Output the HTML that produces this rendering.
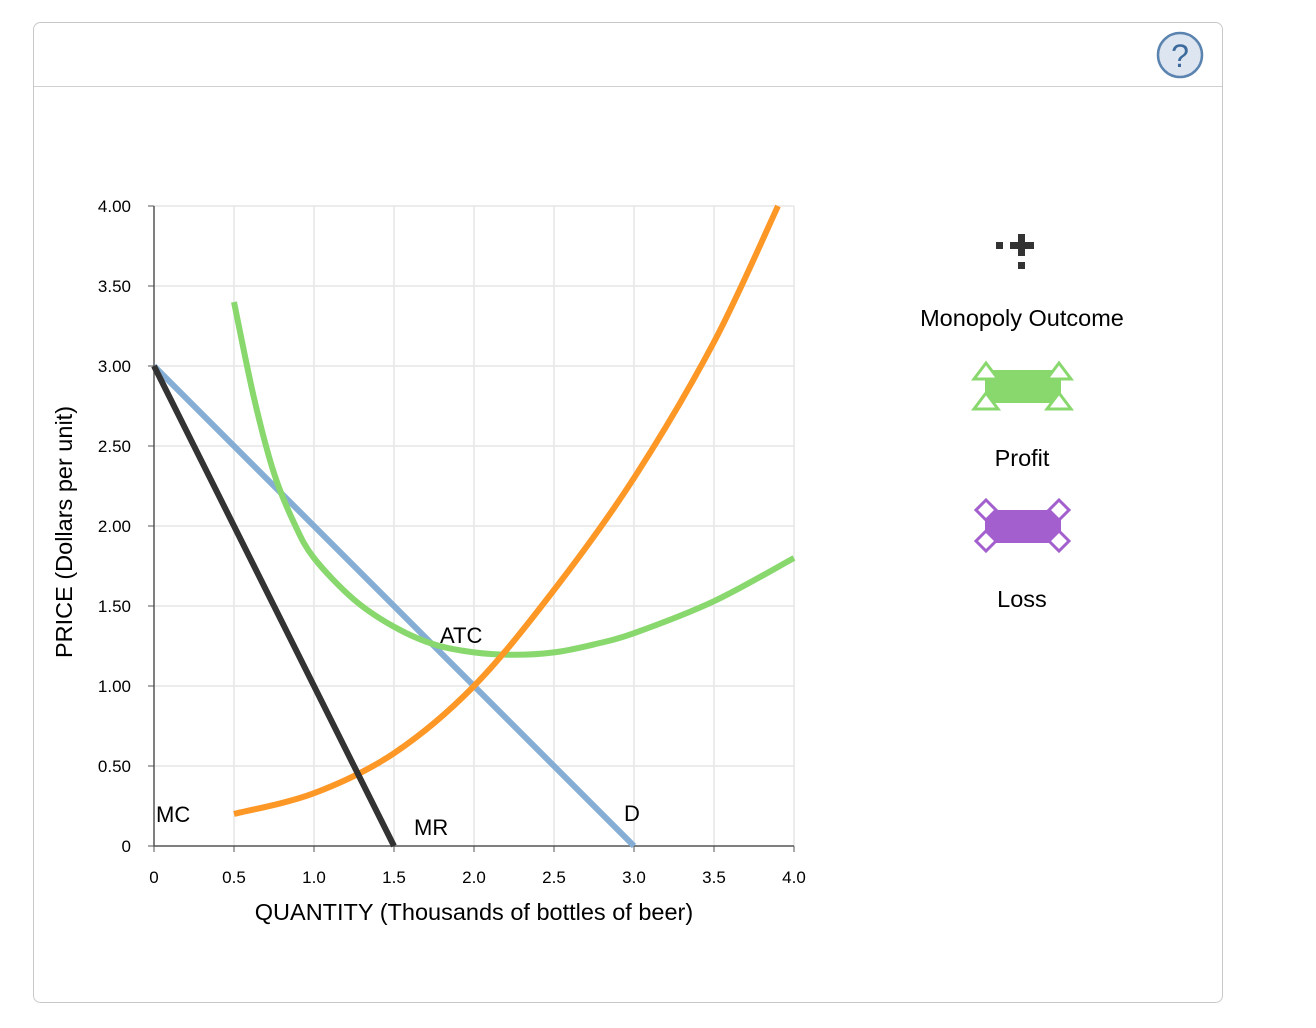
<!DOCTYPE html>
<html><head><meta charset="utf-8"><style>
body{margin:0;background:#fff;font-family:"Liberation Sans",Arial,sans-serif;}
svg{display:block}
</style></head><body>
<svg width="1316" height="1028" id="chart" font-family="Liberation Sans, Arial, sans-serif">
<rect x="33.5" y="22.5" width="1189" height="980" rx="7" fill="#fff" stroke="#c8c8c8"/>
<line x1="34" y1="86.5" x2="1222" y2="86.5" stroke="#d0d0d0"/>
<g>
<circle cx="1180" cy="55" r="22" fill="#dde6f0" stroke="#5b83b0" stroke-width="2.5"/>
<text x="1180" y="67" text-anchor="middle" font-size="32" fill="#3d6a9c">?</text>
</g>
<g id="grid"></g>
<g id="axes"></g>
<g id="series"></g>
<text x="474" y="920" text-anchor="middle" font-size="23.5" fill="#000">QUANTITY (Thousands of bottles of beer)</text>
<text transform="translate(72,532) rotate(-90)" text-anchor="middle" font-size="23.5" fill="#000">PRICE (Dollars per unit)</text>
<text x="156" y="822" font-size="22">MC</text>
<text x="414" y="835" font-size="22">MR</text>
<text x="624" y="821" font-size="22">D</text>
<text x="440" y="643" font-size="22">ATC</text>
<g>
<g fill="#333">
<rect x="996" y="242" width="7" height="7"/>
<rect x="1010" y="242" width="24" height="7"/>
<rect x="1018" y="234" width="7" height="22"/>
<rect x="1018" y="262" width="7" height="7"/>
</g>
<text x="1022" y="326" text-anchor="middle" font-size="23.5">Monopoly Outcome</text>
<g>
<rect x="985" y="370" width="76" height="33" fill="#88d86e"/>
<g fill="#fff" stroke="#88d86e" stroke-width="3">
<polygon points="986,363 974,379 998,379"/><polygon points="1059,363 1047,379 1071,379"/>
<polygon points="986,393 974,409 998,409"/><polygon points="1059,393 1047,409 1071,409"/>
</g></g>
<text x="1022" y="466" text-anchor="middle" font-size="23.5">Profit</text>
<g>
<rect x="985" y="510" width="76" height="33" fill="#a45fcf" rx="6"/>
<g fill="#fff" stroke="#a45fcf" stroke-width="3">
<polygon points="986,500 996,510 986,520 976,510"/><polygon points="1059,500 1069,510 1059,520 1049,510"/>
<polygon points="986,531 996,541 986,551 976,541"/><polygon points="1059,531 1069,541 1059,551 1049,541"/>
</g></g>
<text x="1022" y="607" text-anchor="middle" font-size="23.5">Loss</text>
</g>
</svg>
<script>
const xTicks=[0,0.5,1.0,1.5,2.0,2.5,3.0,3.5,4.0];
const xTickLabels=["0","0.5","1.0","1.5","2.0","2.5","3.0","3.5","4.0"];
const yTicks=[0,0.5,1,1.5,2,2.5,3,3.5,4];
const yTickLabels=["0","0.50","1.00","1.50","2.00","2.50","3.00","3.50","4.00"];
const demandQ=[0,3];const demandP=[3,0];
const mrQ=[0,1.5];const mrP=[3,0];
const mcQ=[0.5,1.0,1.5,2.0,2.5,3.0,3.5,3.9];
const mcP=[0.2,0.33,0.58,1.0,1.6,2.3,3.15,4.0];
const atcQ=[0.5,0.625,0.75,0.875,1.0,1.25,1.5,1.75,2.0,2.25,2.5,2.75,3.0,3.5,4.0];
const atcP=[3.4,2.8,2.33,2.02,1.8,1.54,1.37,1.26,1.21,1.195,1.21,1.26,1.33,1.53,1.8];
const X=q=>154+q*160, Y=p=>846-p*160;
const NS="http://www.w3.org/2000/svg";
function mk(tag,attrs,parent){const e=document.createElementNS(NS,tag);for(const k in attrs)e.setAttribute(k,attrs[k]);parent.appendChild(e);return e;}
const grid=document.getElementById('grid'),axes=document.getElementById('axes'),series=document.getElementById('series');
xTicks.forEach((t,i)=>{
 if(i>0){const l=mk('line',{x1:X(t),x2:X(t),y1:Y(4),y2:Y(0),stroke:'#e6e6e6','stroke-width':1.5},grid);
 
 }
 const tk=mk('line',{x1:X(t),x2:X(t),y1:846,y2:852,stroke:'#555'},axes);
 
 
 const tx=mk('text',{x:X(t),y:883,'text-anchor':'middle','font-size':17},axes);tx.textContent=xTickLabels[i];
 
 
});
yTicks.forEach((t,i)=>{
 if(i>0){const l=mk('line',{x1:X(0),x2:X(4),y1:Y(t),y2:Y(t),stroke:'#e6e6e6','stroke-width':1.5},grid);
 
 }
 const tk=mk('line',{x1:148,x2:154,y1:Y(t),y2:Y(t),stroke:'#555'},axes);
 
 
 const tx=mk('text',{x:131,y:Y(t)+6,'text-anchor':'end','font-size':17},axes);tx.textContent=yTickLabels[i];
 
 
});
const ax=mk('path',{d:`M${X(0)},${Y(4)}V${Y(0)}H${X(4)}`,fill:'none',stroke:'#555','stroke-width':1.5},axes);


function smooth(qs,ps){const pts=qs.map((q,i)=>[X(q),Y(ps[i])]);let d=`M${pts[0][0]},${pts[0][1]}`;
 for(let i=0;i<pts.length-1;i++){const p0=pts[Math.max(0,i-1)],p1=pts[i],p2=pts[i+1],p3=pts[Math.min(pts.length-1,i+2)];
 d+=`C${p1[0]+(p2[0]-p0[0])/6},${p1[1]+(p2[1]-p0[1])/6} ${p2[0]-(p3[0]-p1[0])/6},${p2[1]-(p3[1]-p1[1])/6} ${p2[0]},${p2[1]}`;}
 return d;}
const dl=mk('path',{d:smooth(demandQ,demandP),fill:'none',stroke:'#86aed5','stroke-width':6},series);


const atc=mk('path',{d:smooth(atcQ,atcP),fill:'none',stroke:'#88d86e','stroke-width':6},series);


const mc=mk('path',{d:smooth(mcQ,mcP),fill:'none',stroke:'#fd9726','stroke-width':6},series);


const mr=mk('path',{d:smooth(mrQ,mrP),fill:'none',stroke:'#333','stroke-width':6},series);


</script>
</body></html>
